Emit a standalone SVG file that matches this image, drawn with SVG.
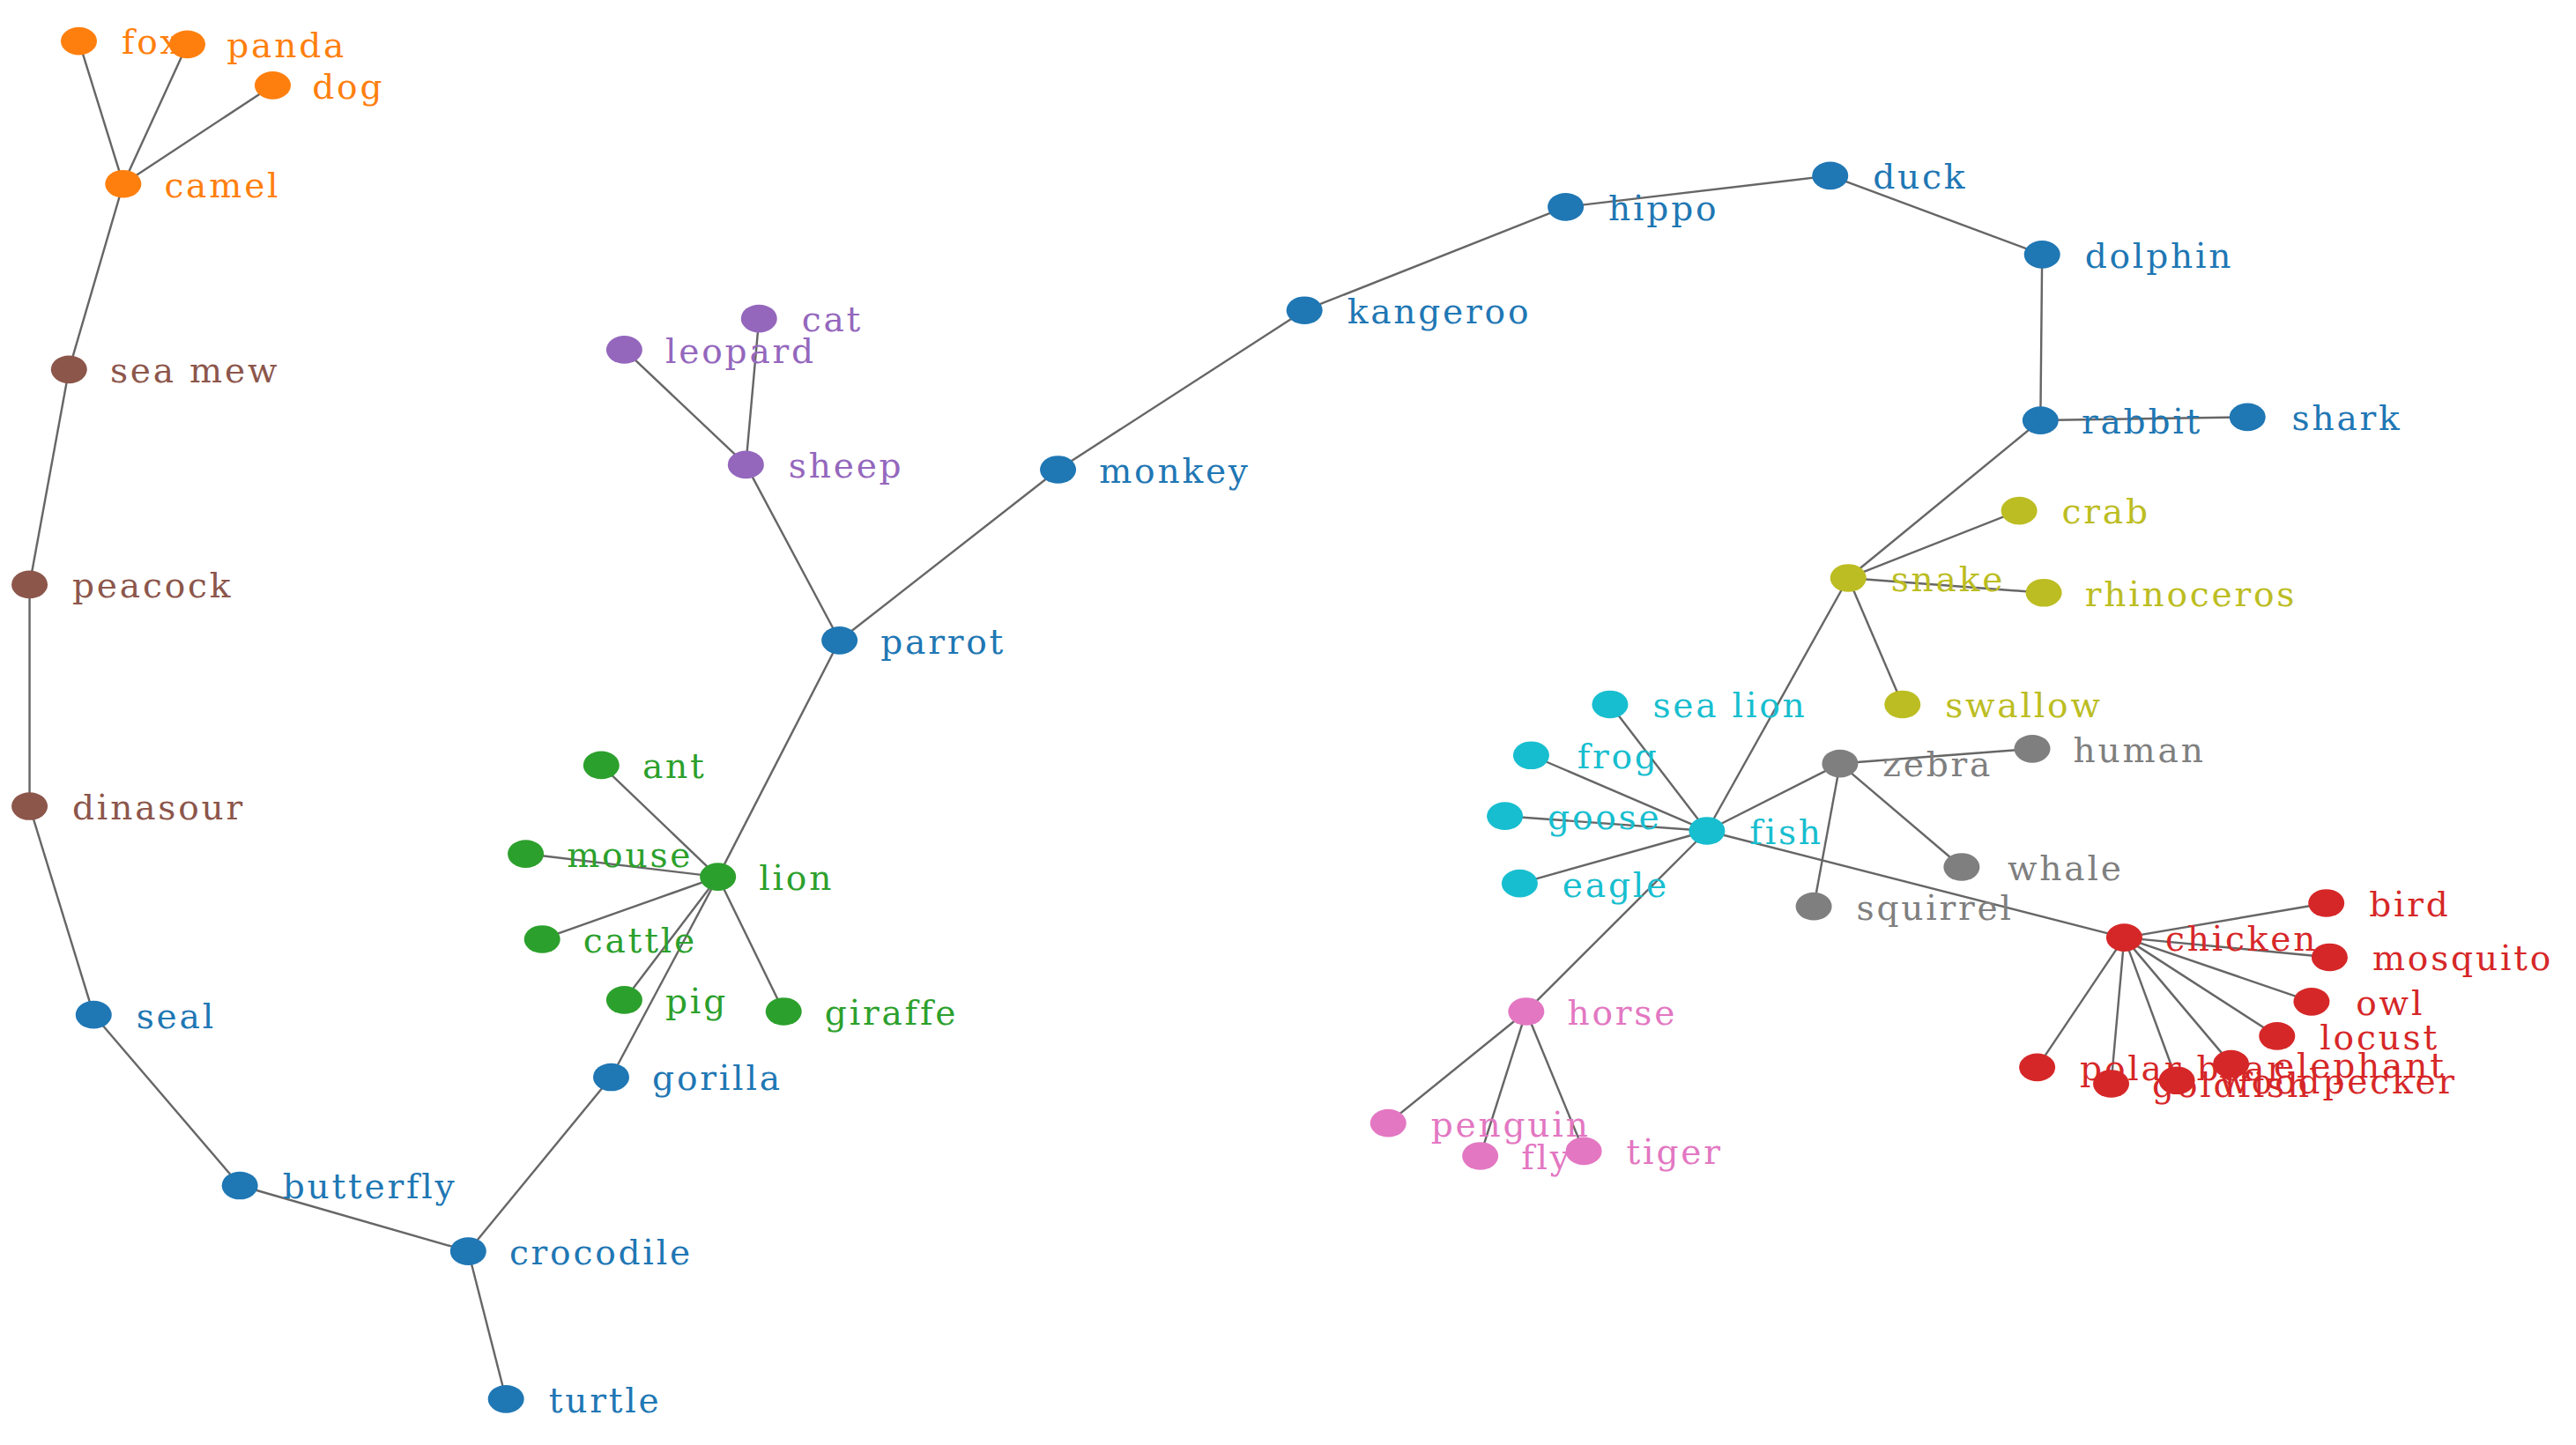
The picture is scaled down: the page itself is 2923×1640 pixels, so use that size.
<svg xmlns="http://www.w3.org/2000/svg" width="2923" height="1640" viewBox="0 0 2923 1640">
<style>
text{font-family:"DejaVu Serif","Liberation Serif",serif;font-size:21px;letter-spacing:1.5px}
#edges line{stroke:#666;stroke-width:1.3}
.o{fill:#ff7f0e}.br{fill:#8c564b}.b{fill:#1f77b4}.p{fill:#9467bd}.g{fill:#2ca02c}.y{fill:#bcbd22}.c{fill:#17becf}.gr{fill:#7f7f7f}.pk{fill:#e377c2}.r{fill:#d62728}
</style>
<rect width="2923" height="1640" fill="#fff"/>
<g transform="scale(1.8642,1.8636)">
<g id="edges">
<line x1="48" y1="25" x2="75" y2="112"/><line x1="114" y1="27" x2="75" y2="112"/><line x1="166" y1="52" x2="75" y2="112"/>
<line x1="75" y1="112" x2="42" y2="225"/><line x1="42" y1="225" x2="18" y2="356"/><line x1="18" y1="356" x2="18" y2="491"/>
<line x1="18" y1="491" x2="57" y2="618"/><line x1="57" y1="618" x2="146" y2="722"/><line x1="146" y1="722" x2="285" y2="762"/>
<line x1="285" y1="762" x2="308" y2="852"/><line x1="285" y1="762" x2="372" y2="656"/><line x1="372" y1="656" x2="437" y2="534"/>
<line x1="437" y1="534" x2="366" y2="466"/><line x1="437" y1="534" x2="320" y2="520"/><line x1="437" y1="534" x2="330" y2="572"/>
<line x1="437" y1="534" x2="380" y2="609"/><line x1="437" y1="534" x2="477" y2="616"/><line x1="437" y1="534" x2="511" y2="390"/>
<line x1="511" y1="390" x2="454" y2="283"/><line x1="454" y1="283" x2="380" y2="213"/><line x1="454" y1="283" x2="462" y2="194"/>
<line x1="511" y1="390" x2="644" y2="286"/><line x1="644" y1="286" x2="794" y2="189"/><line x1="794" y1="189" x2="953" y2="126"/>
<line x1="953" y1="126" x2="1114" y2="107"/><line x1="1114" y1="107" x2="1243" y2="155"/><line x1="1243" y1="155" x2="1242" y2="256"/>
<line x1="1242" y1="256" x2="1368" y2="254"/><line x1="1242" y1="256" x2="1125" y2="352"/><line x1="1125" y1="352" x2="1229" y2="311"/>
<line x1="1125" y1="352" x2="1244" y2="361"/><line x1="1125" y1="352" x2="1158" y2="429"/><line x1="1125" y1="352" x2="1039" y2="506"/>
<line x1="1039" y1="506" x2="980" y2="429"/><line x1="1039" y1="506" x2="932" y2="460"/><line x1="1039" y1="506" x2="916" y2="497"/>
<line x1="1039" y1="506" x2="925" y2="538"/><line x1="1039" y1="506" x2="929" y2="616"/><line x1="929" y1="616" x2="845" y2="684"/>
<line x1="929" y1="616" x2="901" y2="704"/><line x1="929" y1="616" x2="964" y2="701"/><line x1="1039" y1="506" x2="1120" y2="465"/>
<line x1="1120" y1="465" x2="1237" y2="456"/><line x1="1120" y1="465" x2="1194" y2="528"/><line x1="1120" y1="465" x2="1104" y2="552"/>
<line x1="1039" y1="506" x2="1293" y2="571"/><line x1="1293" y1="571" x2="1416" y2="550"/><line x1="1293" y1="571" x2="1418" y2="583"/>
<line x1="1293" y1="571" x2="1407" y2="610"/><line x1="1293" y1="571" x2="1386" y2="631"/><line x1="1293" y1="571" x2="1240" y2="650"/>
<line x1="1293" y1="571" x2="1285" y2="660"/><line x1="1293" y1="571" x2="1325" y2="658"/><line x1="1293" y1="571" x2="1358" y2="648"/>
</g>
<g id="n-fox"><ellipse class="o" cx="48" cy="25" rx="11" ry="8.5"/><text class="o" x="74" y="33">fox</text></g>
<g id="n-panda"><ellipse class="o" cx="114" cy="27" rx="11" ry="8.5"/><text class="o" x="138" y="35">panda</text></g>
<g id="n-dog"><ellipse class="o" cx="166" cy="52" rx="11" ry="8.5"/><text class="o" x="190" y="60">dog</text></g>
<g id="n-camel"><ellipse class="o" cx="75" cy="112" rx="11" ry="8.5"/><text class="o" x="100" y="120">camel</text></g>
<g id="n-seamew"><ellipse class="br" cx="42" cy="225" rx="11" ry="8.5"/><text class="br" x="67" y="233">sea mew</text></g>
<g id="n-peacock"><ellipse class="br" cx="18" cy="356" rx="11" ry="8.5"/><text class="br" x="44" y="364">peacock</text></g>
<g id="n-dinasour"><ellipse class="br" cx="18" cy="491" rx="11" ry="8.5"/><text class="br" x="44" y="499">dinasour</text></g>
<g id="n-seal"><ellipse class="b" cx="57" cy="618" rx="11" ry="8.5"/><text class="b" x="83" y="626">seal</text></g>
<g id="n-butterfly"><ellipse class="b" cx="146" cy="722" rx="11" ry="8.5"/><text class="b" x="172" y="730">butterfly</text></g>
<g id="n-crocodile"><ellipse class="b" cx="285" cy="762" rx="11" ry="8.5"/><text class="b" x="310" y="770">crocodile</text></g>
<g id="n-turtle"><ellipse class="b" cx="308" cy="852" rx="11" ry="8.5"/><text class="b" x="334" y="860">turtle</text></g>
<g id="n-gorilla"><ellipse class="b" cx="372" cy="656" rx="11" ry="8.5"/><text class="b" x="397" y="664">gorilla</text></g>
<g id="n-lion"><ellipse class="g" cx="437" cy="534" rx="11" ry="8.5"/><text class="g" x="462" y="542">lion</text></g>
<g id="n-ant"><ellipse class="g" cx="366" cy="466" rx="11" ry="8.5"/><text class="g" x="391" y="474">ant</text></g>
<g id="n-mouse"><ellipse class="g" cx="320" cy="520" rx="11" ry="8.5"/><text class="g" x="345" y="528">mouse</text></g>
<g id="n-cattle"><ellipse class="g" cx="330" cy="572" rx="11" ry="8.5"/><text class="g" x="355" y="580">cattle</text></g>
<g id="n-pig"><ellipse class="g" cx="380" cy="609" rx="11" ry="8.5"/><text class="g" x="405" y="617">pig</text></g>
<g id="n-giraffe"><ellipse class="g" cx="477" cy="616" rx="11" ry="8.5"/><text class="g" x="502" y="624">giraffe</text></g>
<g id="n-parrot"><ellipse class="b" cx="511" cy="390" rx="11" ry="8.5"/><text class="b" x="536" y="398">parrot</text></g>
<g id="n-sheep"><ellipse class="p" cx="454" cy="283" rx="11" ry="8.5"/><text class="p" x="480" y="291">sheep</text></g>
<g id="n-leopard"><ellipse class="p" cx="380" cy="213" rx="11" ry="8.5"/><text class="p" x="405" y="221">leopard</text></g>
<g id="n-cat"><ellipse class="p" cx="462" cy="194" rx="11" ry="8.5"/><text class="p" x="488" y="202">cat</text></g>
<g id="n-monkey"><ellipse class="b" cx="644" cy="286" rx="11" ry="8.5"/><text class="b" x="669" y="294">monkey</text></g>
<g id="n-kangeroo"><ellipse class="b" cx="794" cy="189" rx="11" ry="8.5"/><text class="b" x="820" y="197">kangeroo</text></g>
<g id="n-hippo"><ellipse class="b" cx="953" cy="126" rx="11" ry="8.5"/><text class="b" x="979" y="134">hippo</text></g>
<g id="n-duck"><ellipse class="b" cx="1114" cy="107" rx="11" ry="8.5"/><text class="b" x="1140" y="115">duck</text></g>
<g id="n-dolphin"><ellipse class="b" cx="1243" cy="155" rx="11" ry="8.5"/><text class="b" x="1269" y="163">dolphin</text></g>
<g id="n-rabbit"><ellipse class="b" cx="1242" cy="256" rx="11" ry="8.5"/><text class="b" x="1267" y="264">rabbit</text></g>
<g id="n-shark"><ellipse class="b" cx="1368" cy="254" rx="11" ry="8.5"/><text class="b" x="1395" y="262">shark</text></g>
<g id="n-snake"><ellipse class="y" cx="1125" cy="352" rx="11" ry="8.5"/><text class="y" x="1151" y="360">snake</text></g>
<g id="n-crab"><ellipse class="y" cx="1229" cy="311" rx="11" ry="8.5"/><text class="y" x="1255" y="319">crab</text></g>
<g id="n-rhinoceros"><ellipse class="y" cx="1244" cy="361" rx="11" ry="8.5"/><text class="y" x="1269" y="369">rhinoceros</text></g>
<g id="n-swallow"><ellipse class="y" cx="1158" cy="429" rx="11" ry="8.5"/><text class="y" x="1184" y="437">swallow</text></g>
<g id="n-fish"><ellipse class="c" cx="1039" cy="506" rx="11" ry="8.5"/><text class="c" x="1065" y="514">fish</text></g>
<g id="n-sealion"><ellipse class="c" cx="980" cy="429" rx="11" ry="8.5"/><text class="c" x="1006" y="437">sea lion</text></g>
<g id="n-frog"><ellipse class="c" cx="932" cy="460" rx="11" ry="8.5"/><text class="c" x="960" y="468">frog</text></g>
<g id="n-goose"><ellipse class="c" cx="916" cy="497" rx="11" ry="8.5"/><text class="c" x="942" y="505">goose</text></g>
<g id="n-eagle"><ellipse class="c" cx="925" cy="538" rx="11" ry="8.5"/><text class="c" x="951" y="546">eagle</text></g>
<g id="n-horse"><ellipse class="pk" cx="929" cy="616" rx="11" ry="8.5"/><text class="pk" x="954" y="624">horse</text></g>
<g id="n-penguin"><ellipse class="pk" cx="845" cy="684" rx="11" ry="8.5"/><text class="pk" x="871" y="692">penguin</text></g>
<g id="n-fly"><ellipse class="pk" cx="901" cy="704" rx="11" ry="8.5"/><text class="pk" x="926" y="712">fly</text></g>
<g id="n-tiger"><ellipse class="pk" cx="964" cy="701" rx="11" ry="8.5"/><text class="pk" x="990" y="709">tiger</text></g>
<g id="n-zebra"><ellipse class="gr" cx="1120" cy="465" rx="11" ry="8.5"/><text class="gr" x="1146" y="473">zebra</text></g>
<g id="n-human"><ellipse class="gr" cx="1237" cy="456" rx="11" ry="8.5"/><text class="gr" x="1262" y="464">human</text></g>
<g id="n-whale"><ellipse class="gr" cx="1194" cy="528" rx="11" ry="8.5"/><text class="gr" x="1222" y="536">whale</text></g>
<g id="n-squirrel"><ellipse class="gr" cx="1104" cy="552" rx="11" ry="8.5"/><text class="gr" x="1130" y="560">squirrel</text></g>
<g id="n-chicken"><ellipse class="r" cx="1293" cy="571" rx="11" ry="8.5"/><text class="r" x="1318" y="579">chicken</text></g>
<g id="n-bird"><ellipse class="r" cx="1416" cy="550" rx="11" ry="8.5"/><text class="r" x="1442" y="558">bird</text></g>
<g id="n-mosquito"><ellipse class="r" cx="1418" cy="583" rx="11" ry="8.5"/><text class="r" x="1444" y="591">mosquito</text></g>
<g id="n-owl"><ellipse class="r" cx="1407" cy="610" rx="11" ry="8.5"/><text class="r" x="1434" y="618">owl</text></g>
<g id="n-locust"><ellipse class="r" cx="1386" cy="631" rx="11" ry="8.5"/><text class="r" x="1412" y="639">locust</text></g>
<g id="n-polarbear"><ellipse class="r" cx="1240" cy="650" rx="11" ry="8.5"/><text class="r" x="1266" y="658">polar bear</text></g>
<g id="n-goldfish"><ellipse class="r" cx="1285" cy="660" rx="11" ry="8.5"/><text class="r" x="1310" y="668">goldfish</text></g>
<g id="n-woodpecker"><ellipse class="r" cx="1325" cy="658" rx="11" ry="8.5"/><text class="r" x="1351" y="666">woodpecker</text></g>
<g id="n-elephant"><ellipse class="r" cx="1358" cy="648" rx="11" ry="8.5"/><text class="r" x="1384" y="656">elephant</text></g>
</g>
</svg>
